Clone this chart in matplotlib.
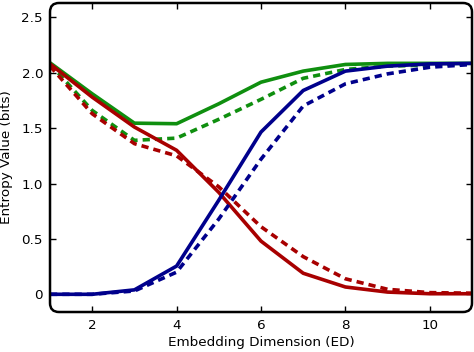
import matplotlib
matplotlib.use("Agg")
import matplotlib.pyplot as plt
from matplotlib.patches import FancyBboxPatch
from matplotlib.ticker import FuncFormatter

ed = [1, 2, 3, 4, 5, 6, 7, 8, 9, 10, 11]
green_solid = [2.09, 1.81, 1.545, 1.54, 1.72, 1.915, 2.015, 2.075, 2.085, 2.085, 2.085]
green_dashed = [2.08, 1.66, 1.39, 1.41, 1.58, 1.76, 1.95, 2.03, 2.06, 2.07, 2.08]
red_solid = [2.08, 1.78, 1.51, 1.30, 0.92, 0.48, 0.19, 0.066, 0.02, 0.005, 0.005]
red_dashed = [2.06, 1.63, 1.36, 1.25, 0.97, 0.61, 0.34, 0.14, 0.045, 0.015, 0.01]
blue_solid = [0.0, 0.0, 0.04, 0.255, 0.85, 1.465, 1.84, 2.015, 2.06, 2.08, 2.085]
blue_dashed = [0.0, 0.0, 0.03, 0.20, 0.68, 1.22, 1.70, 1.90, 1.99, 2.05, 2.075]

xticks = [2, 4, 6, 8, 10]
yticks = [0, 0.5, 1.0, 1.5, 2.0, 2.5]

fig = plt.figure(figsize=(4.74, 3.52), dpi=100)
ax = fig.add_axes([0.1055, 0.1136, 0.8903, 0.8779])

lw = 2.6
dash = (0, (2.0, 1.4))
green = "#0f8f0f"
red = "#a80000"
blue = "#00008c"
ax.plot(ed, green_solid, color=green, lw=lw)
ax.plot(ed, green_dashed, color=green, lw=lw, linestyle=dash)
ax.plot(ed, red_solid, color=red, lw=lw)
ax.plot(ed, red_dashed, color=red, lw=lw, linestyle=dash)
ax.plot(ed, blue_solid, color=blue, lw=lw)
ax.plot(ed, blue_dashed, color=blue, lw=lw, linestyle=dash)

ax.set_xlim(1, 11)
ax.set_ylim(-0.16, 2.63)
ax.set_xticks(xticks)
ax.set_yticks(yticks)
ax.yaxis.set_major_formatter(FuncFormatter(lambda v, p: "0" if v == 0 else f"{v:.1f}"))
ax.tick_params(direction="in", top=True, right=True, length=4, width=1, labelsize=9.7, pad=5)
ax.set_xlabel("Embedding Dimension (ED)", fontsize=9.7, labelpad=3)
ax.set_ylabel("Entropy Value (bits)", fontsize=9.7, labelpad=6)

for s in ax.spines.values():
    s.set_visible(False)
w_px, h_px = 0.8903 * 474, 0.8779 * 352
r = 9.0 / w_px
frame = FancyBboxPatch((0, 0), 1, 1, boxstyle=f"round,pad=0,rounding_size={r}",
                       mutation_aspect=w_px / h_px, transform=ax.transAxes,
                       fill=False, edgecolor="black", linewidth=1.8, clip_on=False, zorder=5)
ax.add_patch(frame)

fig.savefig("out.png", dpi=100)
